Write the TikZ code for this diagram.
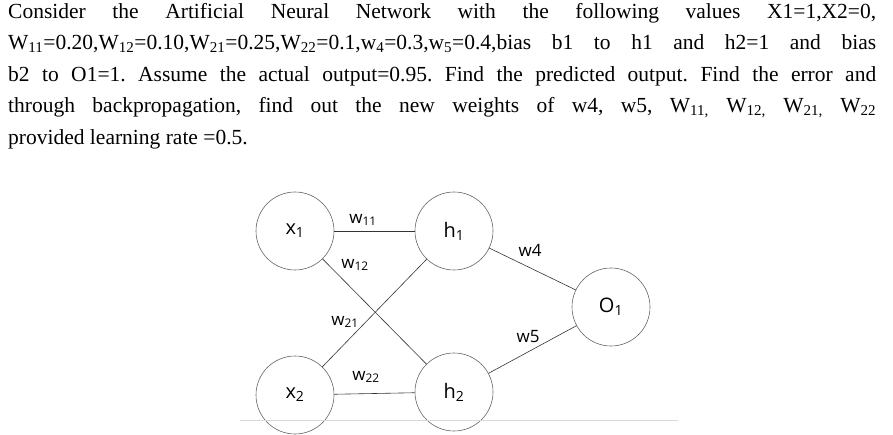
\documentclass[tikz,border=0pt]{standalone}
\usepackage{fontspec}
\setmainfont{Liberation Serif}
\newfontfamily\handf{Open Sans}
\begin{document}
\frenchspacing
\begin{tikzpicture}[x=1pt,y=-1pt,
  neuron/.style={circle,draw=black!60,line width=0.6pt,minimum size=78pt,inner sep=0pt,font=\handf\fontsize{20}{20}\selectfont},
  link/.style={draw=black!80,line width=0.6pt},
  wlab/.style={font=\handf\fontsize{17}{17}\selectfont,inner sep=1pt}]
\useasboundingbox (0,0) rectangle (893,435);
\node[anchor=north west,inner sep=0pt,text width=868pt,align=justify,font=\fontsize{21.5}{31.5}\selectfont] (txt) at (8,3)
{Consider the Artificial Neural Network with the following values X1=1,X2=0, \linebreak
W\textsubscript{11}=0.20,W\textsubscript{12}=0.10,W\textsubscript{21}=0.25,W\textsubscript{22}=0.1,w\textsubscript{4}=0.3,w\textsubscript{5}=0.4,bias b1 to h1 and h2=1 and bias \linebreak
b2 to O1=1. Assume the actual output=0.95. Find the predicted output. Find the error and \linebreak
through backpropagation, find out the new weights of w4, w5, W\textsubscript{11,} W\textsubscript{12,} W\textsubscript{21,} W\textsubscript{22} \linebreak
provided learning rate =0.5.};
\node[neuron] (x1) at (295,231) {x\textsubscript{1}};
\node[neuron] (x2) at (295,395) {x\textsubscript{2}};
\node[neuron] (h1) at (454,231) {h\textsubscript{1}};
\node[neuron] (h2) at (454,392) {h\textsubscript{2}};
\node[neuron] (o1) at (611,307) {O\textsubscript{1}};
\draw[link] (x1) -- (h1);
\draw[link] (x2) -- (h2);
\draw[link] (x1) -- (h2);
\draw[link] (x2) -- (h1);
\draw[link] (h1) -- (o1);
\draw[link] (h2) -- (o1);
\node[wlab] (l11) at (363,220) {w\textsubscript{11}};
\node[wlab] (l12) at (355,265) {w\textsubscript{12}};
\node[wlab] (l21) at (345,322) {w\textsubscript{21}};
\node[wlab] (l22) at (366,377) {w\textsubscript{22}};
\node[wlab] (l4) at (530,250) {w4};
\node[wlab] (l5) at (528,337) {w5};
\draw[black!15,line width=0.8pt] (240,420) -- (678,420);
\end{tikzpicture}
\end{document}
